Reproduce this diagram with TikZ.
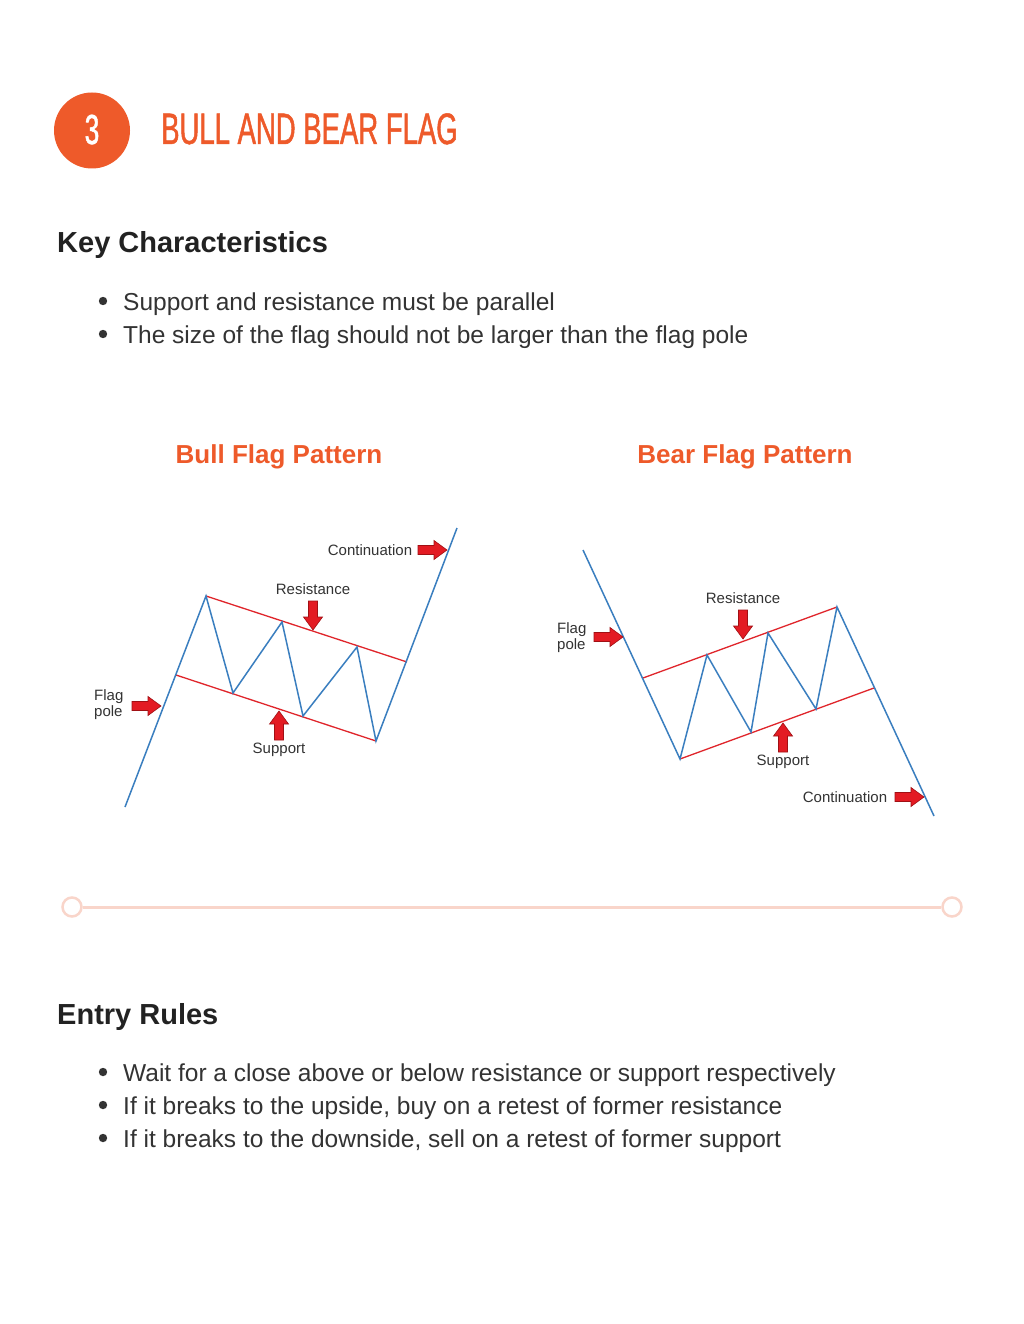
\documentclass[tikz,border=0pt]{standalone}
\usepackage{fontspec}
\setmainfont{Liberation Sans}
\newfontfamily\condfont[FakeStretch=0.625,FakeBold=1.1]{Liberation Sans}
\definecolor{orng}{HTML}{EE5A2A}
\definecolor{txt}{HTML}{333333}
\definecolor{head}{HTML}{222222}
\definecolor{chartblue}{HTML}{3A7EBF}
\definecolor{chartred}{HTML}{E0252B}
\definecolor{arrred}{HTML}{E31B23}
\definecolor{arrdark}{HTML}{A01014}
\definecolor{sepc}{HTML}{F9D5CA}
\definecolor{charttxt}{HTML}{333333}
\tikzset{
  barrow/.pic={\filldraw[fill=arrred,draw=arrdark,line width=0.6pt]
    (0,-4.5) -- (16,-4.5) -- (16,-9.5) -- (29,0) -- (16,9.5) -- (16,4.5) -- (0,4.5) -- cycle;},
  heading/.style={anchor=base west,inner sep=0,font=\fontsize{29}{34}\selectfont\bfseries,text=head},
  bodytext/.style={anchor=base west,inner sep=0,font=\fontsize{24.5}{29}\selectfont,text=txt},
  subtitle/.style={anchor=base,inner sep=0,font=\fontsize{26}{30}\selectfont\bfseries,text=orng},
  chartlabel/.style={inner sep=0,font=\fontsize{15}{16}\selectfont,text=charttxt},
  price/.style={draw=chartblue,line width=1.5pt,line join=miter},
  trend/.style={draw=chartred,line width=1.3pt},
  bulletdot/.style={fill=txt}
}
\begin{document}
\begin{tikzpicture}[x=1pt,y=-1pt]
\useasboundingbox[fill=white] (0,0) rectangle (1024,1324);

% header
\node[circle,fill=orng,minimum size=76pt,inner sep=0] (badge) at (92,130.5) {};
\node[anchor=base,inner sep=0,text=white,font=\condfont\fontsize{42}{42}\selectfont] (num) at (92,144) {3};
\node[anchor=base west,inner sep=0,text=orng,font=\condfont\fontsize{44}{44}\selectfont] (title) at (161,144) {BULL AND BEAR FLAG};

% key characteristics
\node[heading] (kc) at (57,252) {Key Characteristics};
\fill[bulletdot] (103,301) circle (4.2);
\node[bodytext] (kc1) at (123,310) {Support and resistance must be parallel};
\fill[bulletdot] (103,334) circle (4.2);
\node[bodytext] (kc2) at (123,343) {The size of the flag should not be larger than the flag pole};

% subtitles
\node[subtitle] (bullt) at (279,463) {Bull Flag Pattern};
\node[subtitle] (beart) at (745,463) {Bear Flag Pattern};

% bull flag
\coordinate (b0) at (125,807);
\coordinate (b1) at (206,596);
\coordinate (b2) at (233,693);
\coordinate (b3) at (282,622);
\coordinate (b4) at (303,716);
\coordinate (b5) at (357,647);
\coordinate (b6) at (376,741);
\coordinate (b7) at (457,528);
\coordinate (bres) at (407,662);
\coordinate (bsup) at (176,675);
\draw[trend] (b1) -- (bres);
\draw[trend] (bsup) -- (b6);
\draw[price] (b0) -- (b1) -- (b2) -- (b3) -- (b4) -- (b5) -- (b6) -- (b7);
\node[chartlabel] (bcont) at (370,550) {Continuation};
\pic at (418,550) {barrow};
\node[chartlabel] (bresl) at (313,589) {Resistance};
\pic[rotate=-90] at (313,601) {barrow};
\node[chartlabel] (bsupl) at (279,750) {Support};
\pic[rotate=90] at (279,740) {barrow};
\node[chartlabel,anchor=west,align=left] (bpole) at (94,705) {Flag\\pole};
\pic at (132,706) {barrow};

% bear flag
\coordinate (r0) at (583,550);
\coordinate (r1) at (680,759);
\coordinate (r2) at (707,655);
\coordinate (r3) at (751,732);
\coordinate (r4) at (768,633);
\coordinate (r5) at (816,709);
\coordinate (r6) at (837,607);
\coordinate (r7) at (934,816);
\coordinate (rres) at (643,678);
\coordinate (rsup) at (874,688);
\draw[trend] (rres) -- (r6);
\draw[trend] (r1) -- (rsup);
\draw[price] (r0) -- (r1) -- (r2) -- (r3) -- (r4) -- (r5) -- (r6) -- (r7);
\node[chartlabel] (rresl) at (743,598) {Resistance};
\pic[rotate=-90] at (743,610) {barrow};
\node[chartlabel] (rsupl) at (783,762) {Support};
\pic[rotate=90] at (783,752) {barrow};
\node[chartlabel,anchor=west,align=left] (rpole) at (557,638) {Flag\\pole};
\pic at (594,637) {barrow};
\node[chartlabel] (rcont) at (845,797) {Continuation};
\pic at (895,797) {barrow};

% separator
\node[circle,draw=sepc,line width=2.5pt,minimum size=19pt,inner sep=0] (sepl) at (72,907) {};
\node[circle,draw=sepc,line width=2.5pt,minimum size=19pt,inner sep=0] (sepr) at (952,907) {};
\draw[sepc,line width=3pt] (sepl) -- (sepr);

% entry rules
\node[heading] (er) at (57,1024) {Entry Rules};
\fill[bulletdot] (103,1072) circle (4.2);
\node[bodytext] (er1) at (123,1081) {Wait for a close above or below resistance or support respectively};
\fill[bulletdot] (103,1105) circle (4.2);
\node[bodytext] (er2) at (123,1114) {If it breaks to the upside, buy on a retest of former resistance};
\fill[bulletdot] (103,1138) circle (4.2);
\node[bodytext] (er3) at (123,1147) {If it breaks to the downside, sell on a retest of former support};
\end{tikzpicture}
\end{document}
